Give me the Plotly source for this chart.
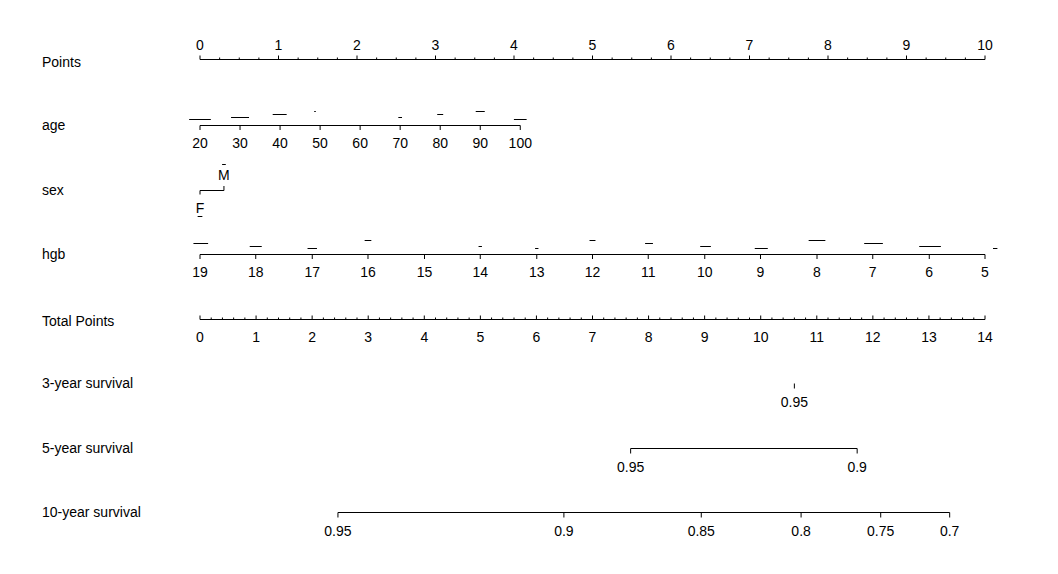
import plotly.graph_objects as go

W, H = 1058, 574
PAGE_OFF = 8  # default body margin of the html page
X0, X1 = 200, 985  # pixel span of the Points scale (0..10)
FONT = dict(family="Liberation Sans, Arial, sans-serif", size=14, color="black")

# ---- data ----
points_ticks = list(range(0, 11))
total_ticks = list(range(0, 15))

age_levels = [20, 30, 40, 50, 60, 70, 80, 90, 100]
age_points = [0, 0.51, 1.02, 1.53, 2.04, 2.55, 3.06, 3.57, 4.08]
age_spike_pos = [0.0, 0.51, 1.015, 1.465, 2.04, 2.55, 3.06, 3.57, 4.08]
age_spike_len = [0.276, 0.229, 0.178, 0.02, 0.0, 0.047, 0.076, 0.115, 0.162]

sex_levels = ["F", "M"]
sex_points = [0, 0.305]
sex_spike_len = [0.06, 0.047]

hgb_levels = [19, 18, 17, 16, 15, 14, 13, 12, 11, 10, 9, 8, 7, 6, 5]
hgb_points = [0, 0.71, 1.43, 2.14, 2.86, 3.57, 4.29, 5.0, 5.71, 6.43, 7.14, 7.86, 8.57, 9.29, 10.0]
hgb_spike_pos = [0.01, 0.71, 1.43, 2.14, 2.86, 3.57, 4.29, 5.0, 5.72, 6.44, 7.15, 7.86, 8.58, 9.3, 10.13]
hgb_spike_len = [0.187, 0.153, 0.12, 0.085, 0.0, 0.043, 0.043, 0.076, 0.10, 0.136, 0.166, 0.213, 0.238, 0.276, 0.056]

surv3_probs = [0.95]
surv3_total = [10.60]
surv5_probs = [0.95, 0.9]
surv5_total = [7.68, 11.72]
surv10_probs = [0.95, 0.9, 0.85, 0.8, 0.75, 0.7]
surv10_total = [2.46, 6.49, 8.94, 10.72, 12.14, 13.37]

row_labels = ["Points", "age", "sex", "hgb", "Total Points",
              "3-year survival", "5-year survival", "10-year survival"]
row_label_y = [62, 125, 190, 254, 321, 383, 448, 512]

SPIKE_OFFSETS = [6, 8, 11, 14]

fig = go.Figure()


def seg_trace(xs, ys, axis="x"):
    fig.add_trace(go.Scatter(x=xs, y=ys, mode="lines", xaxis=axis,
                             line=dict(color="black", width=1),
                             hoverinfo="skip", showlegend=False))


def text_trace(xs, ys, labels, axis="x"):
    fig.add_trace(go.Scatter(x=xs, y=ys, mode="text", text=labels, xaxis=axis,
                             textposition="middle center", textfont=FONT,
                             hoverinfo="skip", showlegend=False))


def scale(pos, labels, y, tick_len, label_y, axis="x", minor=None, minor_len=0):
    xs, ys = [min(pos), max(pos), None], [y, y, None]
    for p in pos:
        xs += [p, p, None]
        ys += [y, y + tick_len, None]
    for p in (minor or []):
        xs += [p, p, None]
        ys += [y, y + minor_len, None]
    seg_trace(xs, ys, axis)
    text_trace(pos, [label_y] * len(pos), [str(l) for l in labels], axis)


def spikes(centers, lengths, ys):
    xs, yy = [], []
    for c, w, y in zip(centers, lengths, ys):
        if w <= 0:
            continue
        xs += [c - w / 2, c + w / 2, None]
        yy += [y, y, None]
    seg_trace(xs, yy)


# Points
minor_pts = [i / 4 for i in range(0, 41) if i % 4]
scale(points_ticks, points_ticks, 59.5, -4, 46, minor=minor_pts, minor_len=-2)

# age
age_y = 125.5
scale(age_points, age_levels, age_y, 4.5, 144)
spikes(age_spike_pos, age_spike_len,
       [age_y - SPIKE_OFFSETS[i % 4] for i in range(len(age_levels))])

# sex
sex_y = 190.5
seg_trace([min(sex_points), max(sex_points), None, sex_points[0], sex_points[0], None,
           sex_points[1], sex_points[1]],
          [sex_y, sex_y, None, sex_y, sex_y + 4, None, sex_y, sex_y - 4.5])
text_trace(sex_points, [209.5, 176.5], sex_levels)
spikes(sex_points, sex_spike_len, [216.5, 164.5])

# hgb
hgb_y = 254.5
n = len(hgb_levels)
scale(hgb_points, hgb_levels, hgb_y, 4.5, 273)
spikes(hgb_spike_pos, hgb_spike_len,
       [hgb_y - SPIKE_OFFSETS[(n - 1 - j) % 4] for j in range(n)])

# Total Points
minor_tot = [i / 5 for i in range(0, 71) if i % 5]
scale(total_ticks, total_ticks, 319.5, -4, 338.5, axis="x2", minor=minor_tot, minor_len=-2)

# survival scales
scale(surv3_total, surv3_probs, 383.5, 5, 403, axis="x2")
scale(surv5_total, surv5_probs, 448.5, 5, 468, axis="x2")
scale(surv10_total, surv10_probs, 512.5, 5, 532, axis="x2")

for lab, y in zip(row_labels, row_label_y):
    fig.add_annotation(x=(40 - PAGE_OFF) / W, y=1 - (y - PAGE_OFF) / H,
                       xref="paper", yref="paper",
                       text=lab, showarrow=False, xanchor="left", yanchor="middle",
                       font=FONT)

px_per_pt = (X1 - X0) / 10
xr = [(PAGE_OFF - X0) / px_per_pt, (W + PAGE_OFF - X0) / px_per_pt]
fig.update_layout(
    width=W, height=H,
    margin=dict(l=0, r=0, t=0, b=0),
    paper_bgcolor="white", plot_bgcolor="white",
    xaxis=dict(range=xr, visible=False, fixedrange=True),
    xaxis2=dict(range=[v * 14 / 10 for v in xr], overlaying="x", visible=False, fixedrange=True),
    yaxis=dict(range=[H + PAGE_OFF, PAGE_OFF], visible=False, fixedrange=True),
)

fig.write_html("out.html")
